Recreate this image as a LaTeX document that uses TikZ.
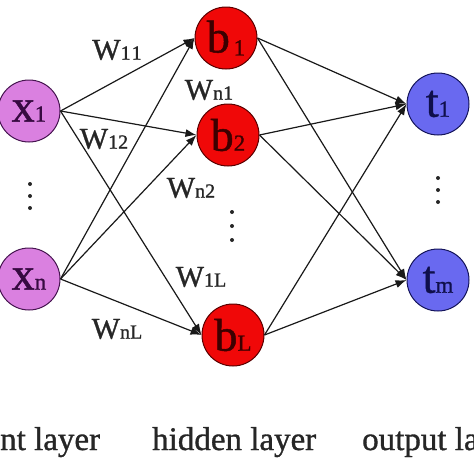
\documentclass[tikz,border=0pt]{standalone}
\usepackage{fontspec}
\setmainfont{Liberation Serif}
\newfontfamily\heavyserif{Liberation Serif}[FakeBold=1]
\usetikzlibrary{arrows.meta}
\definecolor{infill}{RGB}{218,128,224}
\definecolor{indraw}{RGB}{70,20,80}
\definecolor{intext}{RGB}{55,10,65}
\definecolor{hidfill}{RGB}{240,8,8}
\definecolor{hiddraw}{RGB}{90,0,0}
\definecolor{hidtext}{RGB}{60,0,0}
\definecolor{outfill}{RGB}{105,105,240}
\definecolor{outdraw}{RGB}{20,20,90}
\definecolor{outtext}{RGB}{15,15,75}
\newcommand\nodelab[2]{{\fontsize{46}{46}\selectfont #1}{\fontsize{23}{23}\selectfont #2}}
\newcommand\wlabel[2]{{\fontsize{30}{30}\selectfont #1}{\fontsize{20}{20}\selectfont #2}}
\begin{document}
\begin{tikzpicture}[x=1pt,y=-1pt, font=\heavyserif,
  neuron/.style={circle, line width=1pt, minimum size=62pt, inner sep=0pt},
  inN/.style={neuron, fill=infill, draw=indraw, text=intext},
  hidN/.style={neuron, fill=hidfill, draw=hiddraw, text=hidtext},
  outN/.style={neuron, fill=outfill, draw=outdraw, text=outtext},
  conn/.style={line width=1.2pt, draw=black!90, -{Latex[length=11pt,width=8pt]}},
  wl/.style={inner sep=0pt, text=black!85},
  layerlab/.style={inner sep=0pt, font=\heavyserif\fontsize{33}{33}\selectfont, text=black!85},
  dotmark/.style={fill=black!85}]
\useasboundingbox (0,0) rectangle (474,474);
% neurons
\node[inN] (x1) at (29,111) {\nodelab{x}{1}};
\node[inN] (xn) at (29,279) {\nodelab{x}{n}};
\node[hidN] (b1) at (226,38) {\nodelab{b}{\,\raisebox{-3pt}{1}}};
\node[hidN] (b2) at (228,135) {\nodelab{b}{2}};
\node[hidN] (bL) at (233,335) {\nodelab{b}{L}};
\node[outN] (t1) at (438,104) {\nodelab{t}{1}};
\node[outN] (tm) at (438,280) {\nodelab{t}{m}};
% connectors
\draw[conn] (x1.east) -- (b1.west);
\draw[conn] (x1.east) -- (b2.west);
\draw[conn] (x1.east) -- (bL.west);
\draw[conn] (xn.east) -- (b1.west);
\draw[conn] (xn.east) -- (b2.west);
\draw[conn] (xn.east) -- (bL.west);
\draw[conn] (b1.east) -- (t1.west);
\draw[conn] (b1.east) -- (tm.west);
\draw[conn] (b2.east) -- (t1.west);
\draw[conn] (b2.east) -- (tm.west);
\draw[conn] (bL.east) -- (t1.west);
\draw[conn] (bL.east) -- (tm.west);
% weight labels
\node[wl] (w11) at (117,50) {\wlabel{W}{1\kern1pt1}};
\node[wl] (wn1) at (209,90) {\wlabel{W}{n1}};
\node[wl] (w12) at (104,139) {\wlabel{W}{12}};
\node[wl] (wn2) at (191,188) {\wlabel{W}{n2}};
\node[wl] (w1L) at (201,277) {\wlabel{W}{1L}};
\node[wl] (wnL) at (117,329) {\wlabel{W}{nL}};
% ellipses
\foreach \yy in {184,196,208} \fill[dotmark] (30,\yy) circle (2pt);
\foreach \yy in {212,226,240} \fill[dotmark] (232,\yy) circle (2pt);
\foreach \yy in {178,190,202} \fill[dotmark] (438,\yy) circle (2pt);
% layer labels
\node[layerlab, anchor=base west] (lin) at (0,450) {nt layer};
\node[layerlab, anchor=base west] (lhid) at (152,450) {hidden layer};
\node[layerlab, anchor=base west] (lout) at (362,450) {output la};
\end{tikzpicture}
\end{document}
